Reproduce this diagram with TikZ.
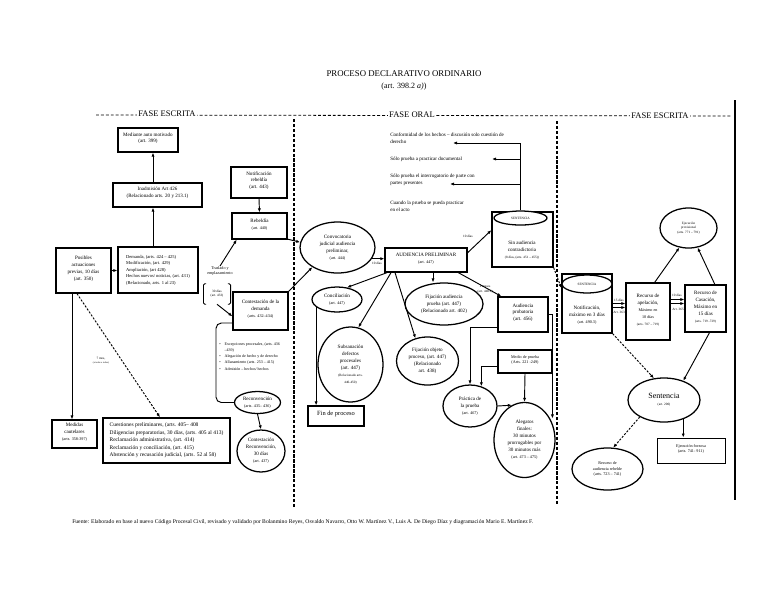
\documentclass[tikz,border=0pt]{standalone}
\usepackage{fontspec}
\setmainfont{Liberation Serif}
\usepackage{graphicx}
\usetikzlibrary{shapes.geometric,fit,arrows.meta,calc}
\newcommand{\fs}{\fontsize{3.8}{5.2}\selectfont}
\newcommand{\fss}{\fontsize{3.1}{4.2}\selectfont}
\newcommand{\fxs}{\fontsize{2.5}{3.2}\selectfont}
\newcommand{\fph}{\fontsize{6.4}{7.5}\selectfont}
\begin{document}
\begin{tikzpicture}[x=0.75pt,y=-0.75pt,
 box/.style={draw,line width=0.95pt,inner sep=0pt,align=center,font=\fs},
 ell/.style={draw,ellipse,line width=0.95pt,inner sep=0pt,align=center,font=\fs},
 txt/.style={inner sep=0pt,align=center,font=\fs},
 arr/.style={-{Latex[length=3pt,width=2.4pt]},line width=0.7pt},
 darr/.style={arr,dash pattern=on 1.6pt off 1.1pt},
 sep/.style={line width=0.9pt,dash pattern=on 2.5pt off 1.2pt},
 phase/.style={line width=0.6pt,dash pattern=on 2.2pt off 1.5pt}]
\fill[white] (0,0) rectangle (768,594);
\useasboundingbox (0,0) rectangle (768,594);

% title
\node[txt,font=\fontsize{6.6}{8}\selectfont] (title) at (404,74) {PROCESO DECLARATIVO ORDINARIO};
\node[txt,font=\fontsize{6}{7}\selectfont] (title2) at (404,87) {(art. 398.2 \textit{a)})};

% phase line and separators
\coordinate (phl) at (96,115); \coordinate (phr) at (732,116);
\draw[phase] (phl) -- (phr);
\node[txt,fill=white,inner xsep=1pt,font=\fph] (fe1) at (167,114) {FASE ESCRITA};
\node[txt,fill=white,inner xsep=1pt,font=\fph] (fo) at (412,115) {FASE ORAL};
\node[txt,fill=white,inner xsep=1pt,font=\fph] (fe2) at (660,116) {FASE ESCRITA};
\coordinate (s1a) at (294,119); \coordinate (s1b) at (294,508);
\coordinate (s2a) at (557,121); \coordinate (s2b) at (557,505);
\draw[sep] (s1a) -- (s1b);
\draw[sep] (s2a) -- (s2b);
\coordinate (rb1) at (735,100); \coordinate (rb2) at (735,500);
\draw[line width=1pt] (rb1) -- (rb2);

% ---------- left column
\node[box,fit={(118,128)(178,152)}] (med) {Mediante auto motivado\\(art. 399)};
\node[box,fit={(113,183)(202,207)}] (inad) {Inadmisión Art 426\\(Relacionado arts. 20 y 213.1)};
\node[box,fit={(231,167)(287,198)}] (notif) {Notificación\\rebeldía\\(art. 443)};
\node[box,fit={(232,213)(287,239)}] (reb) {Rebeldía\\{\fss(art. 440)}};
\node[box,fit={(56,248)(111,293)}] (pos) {Posibles\\actuaciones\\previas, 10 días\\(art. 350)};
\node[box,fit={(118,247)(198,293)}] (dem) {};
\node[txt,align=left,font=\fontsize{3.4}{4.9}\selectfont] (demt) at (dem.center) {Demanda, (arts. 424 – 425)\\Modificación, (art. 429)\\Ampliación, (art 428)\\Hechos nuevos/ noticias, (art. 431)\\(Relacionado, arts. 1 al 23)};
\node[txt,font=\fss] (tras) at (220,271) {Traslado y\\emplazamiento};
\node[txt,font=\fxs,minimum width=20pt,minimum height=15pt] (dias) at (217,294) {30 días\\(art. 433)};
\draw[line width=0.6pt,rounded corners=1pt] ([xshift=2pt]dias.north west) -- (dias.north west) -- (dias.south west) -- ([xshift=2pt]dias.south west);
\draw[line width=0.6pt,rounded corners=1pt] ([xshift=-2pt]dias.north east) -- (dias.north east) -- (dias.south east) -- ([xshift=-2pt]dias.south east);
\node[box,fit={(233,292)(288,330)}] (cont) {Contestación de la\\demanda\\{\fss(arts. 432–434)}};
\node[anchor=north west,inner sep=0pt,font=\fontsize{3}{4.6}\selectfont] (bul) at (219,341) {\begin{tabular}{@{}l@{\hspace{3pt}}l@{}}\textbullet & Excepciones procesales, (arts. 436\\ & –439)\\ \textbullet & Alegación de hecho y de derecho\\ \textbullet & Allanamiento (arts. 253 – 415)\\ \textbullet & Admisión – hechos/ hechos\end{tabular}};
\node[ell,minimum width=34.5pt,minimum height=16.5pt] (recv) at (257.5,402.5) {Reconvención\\{\fss(arts. 435– 436)}};
\node[ell,minimum width=36pt,minimum height=31.5pt] (crec) at (261,451) {Contestación\\Reconvención,\\30 días\\{\fss(art. 437)}};
\node[box,fit={(52,420)(97,448)}] (medc) {Medidas\\cautelares\\{\fss(arts. 358-397)}};
\node[box,fit={(103,418)(230,463)}] (cues) {};
\node[txt,align=left,font=\fontsize{4.1}{5.6}\selectfont] (cuest) at (cues.center) {Cuestiones preliminares, (arts. 405– 408\\Diligencias preparatorias, 30 días, (arts. 405 al 413)\\Reclamación administrativa, (art. 414)\\Reclamación y conciliación, (art. 415)\\Abstención y recusación judicial, (arts. 52 al 58)};
\node[txt,font=\fxs] (siete) at (101,361) {7 mes,\\{\fontsize{1.8}{2.2}\selectfont (a todos o todos)}};

\coordinate (xa) at (153,0);
\coordinate (xb) at (72,0);
\coordinate (xc) at (77,0);
\coordinate (xd) at (160,0);
\coordinate (xf) at (216,0);
\draw[arr] (dem.north -| xa) -- (inad.south -| xa);
\draw[arr] (inad.north -| xa) -- (med.south -| xa);
\draw[arr] (pos.east) -- (dem.west |- pos.east);
\draw[arr] (notif.south) -- (reb.north);
\draw[arr] (tras.north) -- ([xshift=4pt]reb.south west);
\draw[arr] (dias.south) -- ([yshift=-4pt]cont.west);
\draw[line width=0.7pt,rounded corners=4pt] ([yshift=-9pt]cont.west) -| (recv.west -| xf) -- (recv.west);
\draw[arr] (recv.south) -- (crec.north);
\draw[arr] (pos.south -| xb) -- (medc.north -| xb);
\draw[darr] (pos.south -| xc) -- (cues.north -| xd);

% ---------- middle column
\node[txt,anchor=west,align=left] (it1) at (390,138) {Conformidad de los hechos – discusión solo cuestión de\\derecho};
\node[txt,anchor=west,align=left] (it2) at (390,159) {Sólo prueba a practicar documental};
\node[txt,anchor=west,align=left] (it3) at (390,180) {Sólo prueba el interrogatorio de parte con\\partes presentes};
\node[txt,anchor=west,align=left] (it4) at (390,206) {Cuando la prueba se pueda practicar\\en el acto};

\node[draw,line width=0.95pt,fit={(492,212)(553,267)},inner sep=0pt] (sinb) {};
\node[ell,fill=white,minimum width=39.75pt,minimum height=10.5pt,font=\fxs] (sent1) at (520.5,218) {SENTENCIA};
\node[txt] (sint) at (522,250) {Sin audiencia\\contradictoria\\{\fxs (8 días, (arts. 451 – 455))}};

\coordinate (t1) at (453,143);
\coordinate (t2) at (492,159);
\coordinate (t3) at (450,184);
\draw[line width=0.7pt] (sent1.north) -- (sent1.north |- t1);
\draw[arr] (sent1.north |- t1) -- (t1);
\draw[arr] (sent1.north |- t2) -- (t2);
\draw[arr] (sent1.north |- t3) -- (t3);

\node[ell,minimum width=56.25pt,minimum height=38.25pt] (conv) at (337.5,247.5) {Convocatoria\\judicial audiencia\\preliminar,\\{\fss(art. 444)}};
\node[box,fit={(385,248)(467,272)}] (audp) {AUDIENCIA PRELIMINAR\\{\fss(art. 447)}};
\node[ell,minimum width=37.5pt,minimum height=18.75pt] (concil) at (337,299.5) {Conciliación\\{\fss(art. 447)}};
\node[ell,minimum width=48.75pt,minimum height=56.25pt] (subsan) at (350.5,364.5) {Subsanación\\defectos\\procesales\\(art. 447)\\{\fxs(Relacionado arts.}\\{\fxs 440-450)}};
\node[ell,minimum width=46.5pt,minimum height=36pt] (fijobj) at (427.5,361) {Fijación objeto\\proceso, (art. 447)\\(Relacionado\\art. 438)};
\node[ell,minimum width=58.5pt,minimum height=31.5pt] (fijaud) at (444,304) {Fijación audiencia\\prueba (art. 447)\\(Relacionado art. 402)};
\node[box,fit={(498,297)(548,332)}] (aprob) {Audiencia\\probatoria\\(art. 456)};
\node[box,fit={(498,350)(552,373)},font=\fss] (medio) {Medio de prueba\\(Arts. 221 -249)};
\node[ell,minimum width=40.5pt,minimum height=31.5pt] (practica) at (470,406) {Práctica de\\la prueba\\{\fss(art. 467)}};
\node[ell,minimum width=45.75pt,minimum height=56.25pt] (aleg) at (524.5,440) {Alegatos\\finales:\\30 minutos\\prorrogables por\\30 minutos más\\{\fss(art. 473 – 475)}};
\node[box,fit={(308,406)(364,426)},font=\fontsize{4.8}{5.5}\selectfont] (fin) {Fin de proceso};

\node[txt,font=\fxs] (l10a) at (377,263) {10 días};
\node[txt,font=\fxs] (l10b) at (468,236) {10 días};
\node[txt,font=\fxs,anchor=south east] (l2m) at (493,293) {2 meses\\(art. 448.1)};

\draw[arr] (conv.-18) -- (audp.west |- conv.-18);
\draw[arr] ([yshift=-4pt]audp.north east) -- ([yshift=7pt]sinb.west);
\draw[arr] ([xshift=-7pt]audp.south east) -- ([xshift=3pt]aprob.north west);
\coordinate (xe) at (433,0);
\draw[arr] (audp.south -| xe) -- (fijaud.north -| xe);
\draw[arr] ([xshift=2pt]audp.south west) -- (concil.50);
\draw[arr] ([xshift=5pt]audp.south west) -- (subsan.78);
\draw[arr] ([xshift=8pt]audp.south west) -- (fijobj.118);
\draw[arr] (concil.200) -- (concil.200 |- fin.north);
\draw[arr] ([yshift=-10pt]aprob.west) -| (practica.north);
\draw[arr] ([yshift=-4pt]medio.west) -| (practica.60);
\draw[arr] (medio.south) -- (aleg.north);
\draw[arr] (practica.east) -- (aleg.110);
\draw[arr] (aprob.east) -| ([xshift=1.7pt]aleg.40);
\draw[arr] (reb.-25) -- (conv.172);
\draw[arr] (cont.north east) -- (conv.218);

% ---------- right column
\node[draw,line width=0.95pt,fit={(562,274)(612,333)},inner sep=0pt] (rsb) {};
\node[ell,fill=white,minimum width=37.5pt,minimum height=13.5pt,font=\fxs] (sent2) at (587,284) {SENTENCIA};
\node[txt] (rst) at (587,315) {Notificación,\\máximo en 3 días\\{\fss(art. 490.3)}};
\node[box,fit={(626,283)(670,340)}] (apel) {Recurso de\\apelación,\\{\fss Máximo en}\\{\fss 10 días}\\{\fxs(arts. 707 – 719)}};
\node[box,fit={(685,285)(726,332)}] (cas) {Recurso de\\Casación,\\Máximo en\\15 días\\{\fxs(arts. 719 -729)}};
\node[ell,minimum width=42.75pt,minimum height=30pt,font=\fxs] (ejp) at (688.5,228) {Ejecución\\provisional\\(arts. 771 – 791)};
\node[ell,minimum width=54pt,minimum height=33pt] (sent) at (664,400) {{\fontsize{6}{7}\selectfont Sentencia}\\{\fxs(art. 200)}};
\node[ell,minimum width=53.25pt,minimum height=31.5pt,font=\fss] (reca) at (607.5,469) {Recurso de\\audiencia rebelde\\(arts. 723 – 741)};
\node[box,line width=0.7pt,fit={(657,438)(725,463)},font=\fss] (ejf) {Ejecución forzosa\\(arts. 741- 911)};

\draw[darr] (sinb.south east) -- ([yshift=-11pt]rsb.north west);

\node[txt,font=\fxs] (l15) at (619,300) {15 días};
\node[txt,font=\fxs] (la1) at (619,312) {Art. 363};
\node[txt,font=\fxs] (l10c) at (677,295) {10 días};
\node[txt,font=\fxs] (la2) at (678,309) {Art. 365};

\draw[arr] (rsb.east) -- (rsb.east -| apel.west);
\draw[arr] ([yshift=-3pt]rsb.east) -- ([yshift=-3pt]rsb.east -| apel.west);
\draw[arr] ([yshift=9pt]apel.east) -- ([yshift=9pt]apel.east -| cas.west);
\draw[arr] ([yshift=6pt]apel.east) -- ([yshift=6pt]apel.east -| cas.west);
\draw[arr] ([xshift=5pt]apel.north) -- (ejp.245);
\draw[arr] ([xshift=7pt]cas.north) -- (ejp.295);
\draw[arr] ([xshift=3pt]cas.south) -- (sent.45);
\draw[darr] (rsb.south east) -- (sent.115);
\draw[darr] (sent.215) -- (reca.75);
\draw[arr] (sent.-45) -- (sent.-45 |- ejf.north);

% footer
\node[anchor=west,inner sep=0pt] (foot) at (72,522) {\resizebox{345.75pt}{!}{\fontsize{4}{5}\selectfont Fuente: Elaborado en base al nuevo Código Procesal Civil, revisado y validado por Bolanmino Reyes, Osvaldo Navarro, Otto W. Martínez V., Luis A. De Diego Díaz y diagramación Mario E. Martínez F.}};
\end{tikzpicture}
\end{document}
